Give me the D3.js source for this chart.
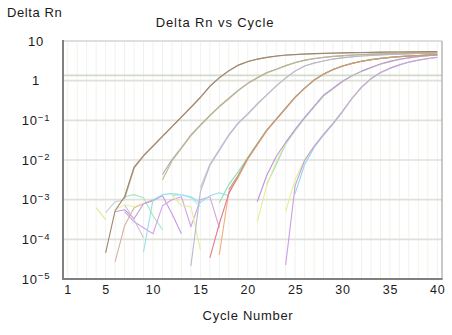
<!DOCTYPE html>
<html><head><meta charset="utf-8">
<script src="https://cdn.jsdelivr.net/npm/d3@7"></script>
<style>
body{margin:0;background:#fff}
svg{display:block}
text{font-family:"Liberation Sans",Arial,sans-serif;fill:#1a1a1a}
</style>
</head><body>
<svg id="chart" width="452" height="335"></svg>
<script>
// ---------- data ----------
const cycles = [1,2,3,4,5,6,7,8,9,10,11,12,13,14,15,16,17,18,19,20,21,22,23,24,25,26,27,28,29,30,31,32,33,34,35,36,37,38,39,40];
const cycleTicks = [1,5,10,15,20,25,30,35,40];
const deltaTicks = [1e-5,1e-4,1e-3,1e-2,1e-1,1,10];
const threshold = 1.36;

// amplification curves (first cycle, then Delta Rn per cycle)
const a1Start = 5;
const a1 = [0.0000456,0.000526,0.00119,0.00665,0.013,0.0228,0.0398,0.0697,0.123,0.215,0.382,0.726,1.19,1.79,2.47,3.03,3.5,3.87,4.17,4.42,4.58,4.69,4.8,4.88,4.97,5.02,5.08,5.14,5.17,5.23,5.27,5.3,5.33,5.36,5.39,5.42];
const a2Start = 7;
const a2 = [0.00105,0.0062,0.0125,0.0222,0.039,0.068,0.12,0.21,0.375,0.71,1.17,1.76,2.43,2.99,3.46,3.83,4.13,4.38,4.54,4.66,4.77,4.85,4.93,4.99,5.05,5.1,5.14,5.19,5.23,5.26,5.29,5.32,5.35,5.38];
const b1Start = 11;
const b1 = [0.0043,0.0103,0.0207,0.043,0.0769,0.134,0.226,0.36,0.574,0.865,1.19,1.6,1.95,2.4,2.86,3.3,3.61,3.89,4.1,4.27,4.42,4.55,4.66,4.74,4.83,4.88,4.94,5.0,5.06,5.12];
const b2Start = 11;
const b2 = [0.0032,0.0095,0.0195,0.041,0.074,0.13,0.22,0.35,0.56,0.85,1.17,1.57,1.92,2.36,2.82,3.25,3.56,3.84,4.05,4.22,4.37,4.5,4.61,4.7,4.78,4.84,4.9,4.95,5.0,5.05];
const c1Start = 14;
const c1 = [0.0000213,0.0016,0.00726,0.0174,0.0417,0.0839,0.142,0.254,0.43,0.726,1.16,1.74,2.33,2.77,3.12,3.5,3.76,3.98,4.17,4.32,4.44,4.55,4.66,4.74,4.83,4.88,4.94];
const c2Start = 15;
const c2 = [0.002,0.0078,0.0185,0.044,0.088,0.148,0.262,0.44,0.74,1.18,1.76,2.35,2.79,3.14,3.52,3.78,4.0,4.19,4.34,4.46,4.57,4.68,4.76,4.84,4.9,4.96];
const d1Start = 16;
const d1 = [0.000034,0.000247,0.00142,0.00406,0.0109,0.0247,0.0558,0.106,0.201,0.382,0.646,1.03,1.46,1.9,2.33,2.72,3.08,3.38,3.63,3.85,4.03,4.17,4.29,4.42,4.52];
const d2Start = 17;
const d2 = [0.0000406,0.0016,0.0036,0.0105,0.024,0.054,0.104,0.198,0.376,0.64,1.02,1.45,1.88,2.31,2.7,3.06,3.36,3.61,3.83,4.01,4.15,4.27,4.4,4.5];
const d3Start = 17;
const d3v = [0.00084,0.0024,0.0051,0.0116,0.026,0.057,0.108,0.204,0.386,0.65,1.04,1.47,1.91,2.34,2.73,3.09,3.39,3.64,3.86,4.04,4.18,4.3,4.43,4.53];
const d4Start = 18;
const d4 = [0.0018,0.0042,0.0112,0.0252,0.0565,0.107,0.203,0.385,0.65,1.04,1.47,1.92,2.35,2.74,3.1,3.4,3.65,3.87,4.05,4.19,4.31,4.44,4.54];
const e1Start = 21;
const e1 = [0.000889,0.00406,0.0123,0.0277,0.0591,0.119,0.226,0.43,0.646,0.97,1.34,1.74,2.16,2.62,3.06,3.46,3.8,4.07,4.29,4.48];
const e2Start = 21;
const e2 = [0.000277,0.00226,0.00916,0.026,0.057,0.116,0.222,0.42,0.635,0.955,1.32,1.72,2.14,2.6,3.03,3.43,3.77,4.04,4.26,4.45];
const e3Start = 22;
const e3 = [0.0024,0.00769,0.025,0.055,0.112,0.215,0.41,0.62,0.94,1.3,1.7,2.12,2.58,3.01,3.41,3.75,4.02,4.24,4.43];
const f1Start = 24;
const f1 = [0.0000226,0.00226,0.0097,0.022,0.0443,0.0839,0.169,0.36,0.684,1.12,1.6,2.07,2.5,2.94,3.3,3.61,3.89];
const f2Start = 24;
const f2 = [0.000497,0.00321,0.0102,0.0225,0.045,0.085,0.171,0.364,0.69,1.13,1.61,2.08,2.51,2.95,3.31,3.62,3.9];
const f3Start = 25;
const f3 = [0.00142,0.00769,0.0205,0.042,0.08,0.162,0.35,0.67,1.1,1.57,2.04,2.47,2.91,3.27,3.58,3.86];

// baseline noise (positive values only)
const n1Start = 4;  const n1 = [0.000627,0.000312];
const n2Start = 5;  const n2 = [0.000469,0.000889,0.001];
const n3Start = 7;  const n3 = [0.00119,0.00134,0.00112,0.000393,0.000174];
const n5Start = 6;  const n5 = [0.000027,0.00022,0.000627,0.000792,0.001];
const n6Start = 6;  const n6 = [0.000497,0.000558,0.00033,0.000792,0.00094,0.00126,0.000442,0.000138];
const n7Start = 7;  const n7 = [0.000497,0.000277,0.000196,0.000138,0.000705,0.001,0.00119,0.000208,0.001,0.00119,0.000196];
const n8Start = 7;  const n8 = [0.000747,0.000312,0.000109];
const n9Start = 9;  const n9 = [0.0000483,0.001,0.00134,0.00142,0.00134,0.00119,0.00084,0.00126,0.0015,0.00126];
const n10Start = 12; const n10 = [0.00126,0.00134,0.00112,0.000665];
const n11Start = 12; const n11 = [0.00134,0.000705,0.000665,0.0000542];
const n12Start = 6;  const n12 = [0.000558,0.000747,0.000665,0.00084];

// ---------- styles ----------
const series = [
  {s:n1Start,v:n1,col:"#dde889"},{s:n2Start,v:n2,col:"#c4d0dc"},{s:n3Start,v:n3,col:"#a4e6c6"},
  {s:n5Start,v:n5,col:"#d6b2a6"},{s:n6Start,v:n6,col:"#c898e0"},{s:n7Start,v:n7,col:"#d2a2ea"},
  {s:n8Start,v:n8,col:"#c6c6cc"},{s:n9Start,v:n9,col:"#98dfea"},{s:n10Start,v:n10,col:"#a8e6f0"},
  {s:n11Start,v:n11,col:"#e6ec96"},{s:n12Start,v:n12,col:"#eef0aa"},
  {s:f3Start,v:f3,col:"#8cdce6"},{s:f2Start,v:f2,col:"#e6ee8c"},{s:f1Start,v:f1,col:"#cc9ce6"},
  {s:e3Start,v:e3,col:"#90dcd0"},{s:e2Start,v:e2,col:"#e6ee90"},{s:e1Start,v:e1,col:"#c090e0"},
  {s:d3Start,v:d3v,col:"#88e0c0"},{s:d2Start,v:d2,col:"#f0b078"},{s:d1Start,v:d1,col:"#e07a90"},{s:d4Start,v:d4,col:"#bca47a"},
  {s:c2Start,v:c2,col:"#ccc6d8"},{s:c1Start,v:c1,col:"#b8bacc"},
  {s:b1Start,v:b1,col:"#a6abc4"},{s:b2Start,v:b2,col:"#c4b488"},
  {s:a2Start,v:a2,col:"#b4a690"},{s:a1Start,v:a1,col:"#9e8870"}
];

// ---------- chart ----------
const svg = d3.select("#chart");
const L = 63, R = 442, T = 41, B = 279;
const x = d3.scaleLinear().domain([0.5, 40.5]).range([L, R]);
const y = d3.scaleLog().domain([1e-5, 10]).range([B, T]);

// vertical grid
svg.append("g").selectAll("line").data(cycles).join("line")
  .attr("x1", d => x(d)).attr("x2", d => x(d)).attr("y1", T).attr("y2", B)
  .attr("stroke", "#f1f1ec").attr("stroke-width", 1);
// horizontal grid
svg.append("g").selectAll("line").data(deltaTicks).join("line")
  .attr("x1", L).attr("x2", R).attr("y1", d => y(d)).attr("y2", d => y(d))
  .attr("stroke", "#e0e0da").attr("stroke-width", 1.6);
// threshold
svg.append("line").attr("x1", L).attr("x2", R).attr("y1", y(threshold)).attr("y2", y(threshold))
  .attr("stroke", "#d2dccb").attr("stroke-width", 1.6);

// curves
const line = d3.line().defined(d => d.v > 0).x(d => x(d.c)).y(d => y(d.v));
svg.append("g").selectAll("path").data(series).join("path")
  .attr("d", s => line(s.v.map((v, i) => ({c: s.s + i, v}))))
  .attr("fill", "none").attr("stroke", s => s.col).attr("stroke-width", 1.1)
  .attr("stroke-linejoin", "round");

// frame
svg.append("line").attr("x1", L).attr("x2", R).attr("y1", T).attr("y2", T).attr("stroke", "#dcdcdc").attr("stroke-width", 1.5);
svg.append("line").attr("x1", R).attr("x2", R).attr("y1", T).attr("y2", B).attr("stroke", "#a6a6a6").attr("stroke-width", 1.2);
svg.append("line").attr("x1", L).attr("x2", L).attr("y1", T - 1).attr("y2", B + 1).attr("stroke", "#808080").attr("stroke-width", 2);
svg.append("line").attr("x1", L - 1).attr("x2", R + 0.6).attr("y1", B).attr("y2", B).attr("stroke", "#808080").attr("stroke-width", 2);

// x axis
const gx = svg.append("g").attr("transform", `translate(0,${B})`)
  .call(d3.axisBottom(x).tickValues(cycleTicks).tickSize(0).tickPadding(6));
gx.select(".domain").remove();
gx.selectAll("text").attr("font-size", 12.5).attr("font-family", "Liberation Sans")
  .attr("fill", "#1a1a1a").attr("letter-spacing", 0.8);

// y axis
const gy = svg.append("g").attr("transform", `translate(${L},0)`)
  .call(d3.axisLeft(y).tickValues(deltaTicks).tickSize(0).tickFormat(() => ""));
gy.select(".domain").remove();
gy.selectAll(".tick text").each(function(d) {
  const t = d3.select(this);
  const e = Math.round(Math.log10(d));
  t.attr("text-anchor", "middle").attr("x", -27).attr("font-size", 13)
   .attr("font-family", "Liberation Sans").attr("fill", "#1a1a1a").attr("letter-spacing", 0.8);
  if (e === 0) t.text("1");
  else if (e === 1) t.text("10");
  else {
    t.append("tspan").text("10");
    t.append("tspan").attr("dy", "-0.45em").attr("font-size", 9.5).text("\u2212" + (-e));
  }
});

// titles
svg.append("text").attr("x", 7).attr("y", 17).attr("font-size", 13).attr("letter-spacing", 0.6).text("Delta Rn");
svg.append("text").attr("x", 215).attr("y", 27).attr("text-anchor", "middle").attr("font-size", 13).attr("letter-spacing", 0.9).text("Delta Rn vs Cycle");
svg.append("text").attr("x", 248).attr("y", 320).attr("text-anchor", "middle").attr("font-size", 13).attr("letter-spacing", 0.7).text("Cycle Number");
</script>
</body></html>
